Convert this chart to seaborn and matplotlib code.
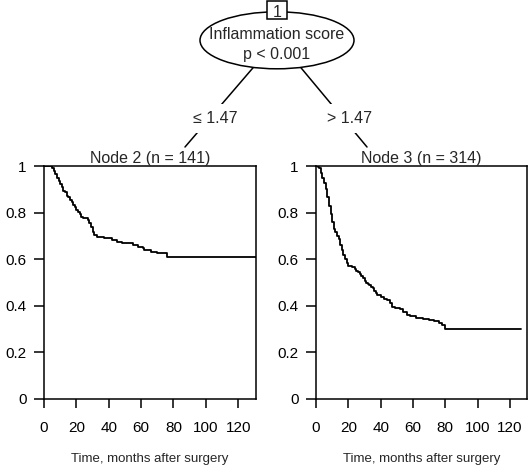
import matplotlib
matplotlib.use("Agg")
import matplotlib.pyplot as plt
from matplotlib.patches import Ellipse, Rectangle
import seaborn as sns

# Kaplan-Meier Schätzwerte
node2_time = [0, 5, 6, 7, 8, 9, 10, 11, 12, 13, 14, 15, 16, 17, 18, 19, 20, 21, 22,
              23, 24, 27, 28, 29, 30, 31, 33, 37, 42, 45, 48, 55, 58, 61, 62, 66, 70,
              76, 131]
node2_surv = [1.0, 0.993, 0.979, 0.965, 0.950, 0.936, 0.922, 0.908, 0.894, 0.887,
              0.873, 0.866, 0.852, 0.845, 0.831, 0.824, 0.810, 0.803, 0.796, 0.782,
              0.775, 0.768, 0.754, 0.740, 0.718, 0.704, 0.697, 0.690, 0.682, 0.675,
              0.668, 0.661, 0.653, 0.646, 0.638, 0.631, 0.625, 0.608, 0.608]

node3_time = [0, 1, 2, 3, 4, 5, 6, 7, 8, 9, 10, 11, 12, 13, 14, 15, 16, 17, 18, 19,
              20, 22, 24, 25, 26, 27, 28, 29, 30, 31, 32, 33, 34, 35, 36, 37, 38, 40,
              42, 44, 46, 47, 49, 52, 54, 56, 58, 62, 66, 70, 73, 76, 78, 80, 127]
node3_surv = [1.0, 0.997, 0.990, 0.971, 0.950, 0.928, 0.900, 0.866, 0.830, 0.795,
              0.758, 0.730, 0.718, 0.700, 0.685, 0.662, 0.640, 0.620, 0.600, 0.585,
              0.572, 0.566, 0.558, 0.550, 0.545, 0.538, 0.528, 0.518, 0.506, 0.500,
              0.494, 0.488, 0.482, 0.475, 0.465, 0.456, 0.446, 0.436, 0.430, 0.425,
              0.410, 0.395, 0.390, 0.385, 0.375, 0.362, 0.355, 0.347, 0.344, 0.339,
              0.333, 0.328, 0.318, 0.302, 0.302]

node_titles = ["Node 2 (n = 141)", "Node 3 (n = 314)"]
split_var = "Inflammation score"
split_p = "p < 0.001"
edge_labels = ["\u2264 1.47", "> 1.47"]
x_ticks = [0, 20, 40, 60, 80, 100, 120]
y_ticks = [0, 0.2, 0.4, 0.6, 0.8, 1.0]
y_ticklabels = ["0", "0.2", "0.4", "0.6", "0.8", "1"]
x_label = "Time, months after surgery"

sns.set_style("ticks")
plt.rcParams["font.family"] = ["Liberation Sans", "DejaVu Sans"]
plt.rcParams["axes.edgecolor"] = "black"
plt.rcParams["axes.linewidth"] = 1.1
for a in ("xtick", "ytick"):
    plt.rcParams[a + ".color"] = "black"
    plt.rcParams[a + ".major.width"] = 1.1
    plt.rcParams[a + ".direction"] = "out"

W, H = 532, 468
fig = plt.figure(figsize=(W / 100, H / 100), dpi=100)


def km_panel(rect, times, surv, title, xmax):
    ax = fig.add_axes(rect)
    sns.lineplot(x=times, y=surv, drawstyle="steps-post", color="black",
                 linewidth=1.3, estimator=None, sort=False, ax=ax)
    ax.set_xlim(0, xmax)
    ax.set_ylim(0, 1)
    ax.set_xticks(x_ticks)
    ax.set_yticks(y_ticks)
    ax.set_yticklabels(y_ticklabels)
    ax.tick_params(axis="x", length=6.5, pad=9, labelsize=11)
    ax.tick_params(axis="y", length=7, pad=5.5, labelsize=11)
    ax.set_xlabel(x_label, fontsize=9.5, labelpad=13)
    ax.set_ylabel("")
    ax.set_title(title, fontsize=11.5, pad=0.5)
    for s in ax.spines.values():
        s.set_visible(True)
    return ax


km_panel([44 / W, 1 - 399 / H, 212 / W, 233 / H], node2_time, node2_surv, node_titles[0], 131)
km_panel([316 / W, 1 - 399 / H, 211 / W, 233 / H], node3_time, node3_surv, node_titles[1], 130.5)

# Baum oben: Knoten 1 mit den zwei Kanten
tree = fig.add_axes([0, 0, 1, 1])
tree.set_xlim(0, W)
tree.set_ylim(H, 0)
tree.axis("off")

tree.plot([259.7, 185], [60, 147], color="black", lw=1.1, zorder=1)
tree.plot([294.5, 367], [60, 147], color="black", lw=1.1, zorder=1)
tree.add_patch(Ellipse((277, 40.3), 154, 57, facecolor="white", edgecolor="black", lw=1.1, zorder=2))
tree.add_patch(Rectangle((267, 1), 20, 18, facecolor="white", edgecolor="black", lw=1.1, zorder=3))
tree.text(277, 17.3, "1", ha="center", va="baseline", fontsize=11.5, zorder=4)
tree.text(277, 39.3, split_var, ha="center", va="baseline", fontsize=11.5, zorder=4)
tree.text(277, 58.7, split_p, ha="center", va="baseline", fontsize=11.5, zorder=4)

box = dict(facecolor="white", edgecolor="none", pad=5)
tree.text(215.3, 123.3, edge_labels[0], ha="center", va="baseline", fontsize=11.5, bbox=box, zorder=4)
tree.text(349.8, 123.3, edge_labels[1], ha="center", va="baseline", fontsize=11.5, bbox=box, zorder=4)

fig.savefig("out.png", dpi=100)
